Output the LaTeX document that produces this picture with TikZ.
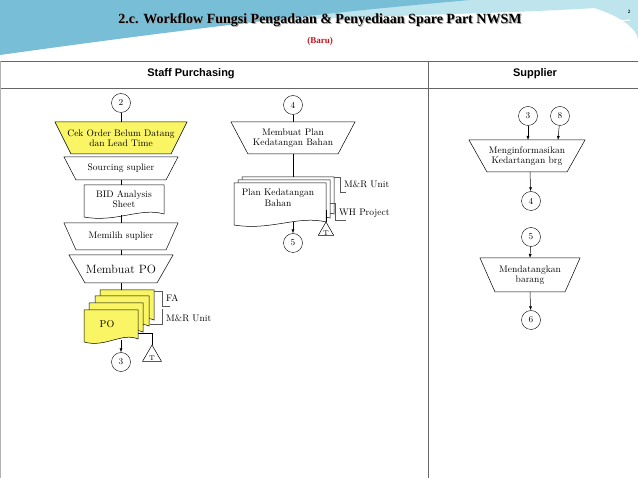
\documentclass[tikz,border=0pt]{standalone}
\usepackage{fontspec}
\newfontfamily\titlefont{Liberation Serif}
\newfontfamily\headfont{Liberation Sans}
\usetikzlibrary{arrows.meta,shapes.geometric}
\definecolor{swoosh}{RGB}{120,190,215}
\definecolor{swooshlight}{RGB}{190,228,238}
\definecolor{yel}{RGB}{250,245,100}
\definecolor{titlered}{RGB}{200,20,30}
\tikzset{
  conn/.style={circle,draw,inner sep=0pt,minimum size=19pt,font=\small,fill=white},
  box/.style={draw,fill=white,line width=0.5pt},
  lbl/.style={font=\fontsize{9.5}{10.5}\selectfont,align=center,inner sep=1pt},
  tag/.style={font=\fontsize{9.5}{10.5}\selectfont,anchor=west,inner sep=1pt},
  line/.style={line width=0.5pt},
  arr/.style={line width=0.5pt,-{Latex[length=4pt,width=3pt]}},
  tri/.style={draw,fill=white,line width=0.5pt},
}
\newcommand\trapz[8]{% name cx ytop ybot halftop halfbot fill text
  \draw[box,fill=#7] (#2-#5,#3)--(#2+#5,#3)--(#2+#6,#4)--(#2-#6,#4)--cycle;
  \node[lbl] (#1) at (#2,{(#3+#4)/2}) {#8};
  \coordinate (#1-t) at (#2,#3); \coordinate (#1-b) at (#2,#4);}
\newcommand\docsh[5]{% x1 y1 x2 y2 fill
  \draw[box,fill=#5] (#1,#2)--(#3,#2)--(#3,#4-3) .. controls ({#3-0.3*(#3-#1)},#4-10) and ({#1+0.4*(#3-#1)},#4+6) .. (#1,#4)--cycle;}
\begin{document}
\begin{tikzpicture}[x=1pt,y=-1pt]
\useasboundingbox (0,0) rectangle (638,478);
\fill[white] (0,0) rectangle (638,478);
% decorative swoosh
\fill[swooshlight] (0,0)--(700,0)--(700,0) .. controls (500,20) and (300,10) .. (0,40)--cycle;
\fill[swoosh] (0,0)--(470,0) .. controls (380,8) and (250,20) .. (0,55)--cycle;
\fill[swooshlight] (560,0) .. controls (620,10) and (638,30) .. (638,40)--(638,0)--cycle;
\draw[white,line width=1.5pt] (0,58) .. controls (150,30) and (300,28) .. (420,40);
\draw[white,line width=1pt] (30,56) .. controls (200,36) and (350,40) .. (630,20);
% title
\node[font=\titlefont\bfseries\fontsize{14}{16}\selectfont,gray!70] at (321,21) {2.c. Workflow Fungsi Pengadaan \& Penyediaan Spare Part NWSM};
\node[font=\titlefont\bfseries\fontsize{14}{16}\selectfont] (title) at (320,20) {2.c. Workflow Fungsi Pengadaan \& Penyediaan Spare Part NWSM};
\node[font=\titlefont\bfseries\small,titlered] (baru) at (320,41) {(Baru)};
\node[font=\titlefont\bfseries\tiny] (pg) at (629,12) {2};
% table
\draw[gray!80!black,line width=0.6pt] (0,61)--(638,61) (0,88)--(638,88) (428,61)--(428,478);
\draw[gray!60,line width=0.4pt] (0,61)--(0,478) (638,61)--(638,478);
\node[font=\headfont\bfseries\fontsize{11}{13}\selectfont] (h1) at (191,74) {Staff Purchasing};
\node[font=\headfont\bfseries\fontsize{11}{13}\selectfont] (h2) at (535,74) {Supplier};
% ---------- left column ----------
\node[conn] (c2) at (121,103) {2};
\trapz{cek}{121}{122}{154}{66}{50}{yel}{Cek Order Belum Datang\\dan Lead Time}
\trapz{src}{121}{157}{180}{57}{45}{white}{Sourcing suplier}
\docsh{84}{185}{164}{217}{white}
\node[lbl] (bid) at (124,199) {BID Analysis\\Sheet};
\coordinate (bid-t) at (121,185); \coordinate (bid-b) at (121,215);
\trapz{mem}{121}{223}{250}{57}{45}{white}{Memilih suplier}
\trapz{mpo}{121}{255}{283}{52}{36}{white}{\large Membuat PO}
\docsh{100}{290}{154}{323}{yel}
\docsh{95}{296}{149}{329}{yel}
\docsh{89}{303}{143}{335}{yel}
\docsh{84}{310}{138}{342}{yel}
\node[lbl,font=\normalsize] (po) at (107,324) {PO};
\coordinate (po-t) at (121,290); \coordinate (po-b) at (121,340);
\draw[line] (c2)--(cek-t) (src-b)--(bid-t) (bid-b)--(mem-t) (mem-b)--(mpo-t) (mpo-b)--(po-t);
\node[conn] (c3a) at (121,362) {3};
\draw[arr] (po-b)--(c3a);
\draw[line,gray!70!black] (154,291)--(162,291)--(162,306)--(170,306);
\node[tag] (fa) at (165,298) {FA};
\draw[line,gray!70!black] (150,324)--(162,324)--(162,309);
\node[tag] (mru1) at (165,318) {M\&R Unit};
\draw[line] (138,333)--(152,333)--(152,345);
\node[tri,regular polygon,regular polygon sides=3,inner sep=0pt,minimum size=22pt] (t1) at (152,356) {};
\node[font=\scriptsize] at (152,358) {T};
% ---------- middle column ----------
\node[conn] (c4a) at (293,105) {4};
\trapz{mpl}{293}{122}{154}{62}{45}{white}{Membuat Plan\\Kedatangan Bahan}
\docsh{242}{177}{334}{217}{white}
\docsh{238}{180}{330}{221}{white}
\docsh{234}{183}{326}{225}{white}
\node[lbl] (pkb) at (278,198) {Plan Kedatangan\\Bahan};
\coordinate (pkb-t) at (293,177); \coordinate (pkb-b) at (293,222);
\draw[line] (c4a)--(mpl-t) (mpl-b)--(pkb-t);
\node[conn] (c5a) at (293,243) {5};
\draw[arr] (pkb-b)--(c5a);
\draw[line,gray!70!black] (334,177)--(340,177)--(340,192)--(346,192);
\node[tag] (mru2) at (343,184) {M\&R Unit};
\draw[line,gray!70!black] (330,203)--(335,203)--(335,220)--(346,220);
\node[tag] (wh) at (338,213) {WH Project};
\draw[line] (326,210)--(326,222);
\node[tri,regular polygon,regular polygon sides=3,inner sep=0pt,minimum size=18pt] (t2) at (326,231) {};
\node[font=\scriptsize] at (326,233) {T};
% ---------- right column ----------
\node[conn] (c3b) at (528,116) {3};
\node[conn] (c8) at (560,116) {8};
\trapz{inf}{527}{140}{172}{58}{40}{white}{Menginformasikan\\Kedartangan brg}
\draw[arr] (c3b)--(528,140);
\draw[arr] (c8)--(558,140);
\node[conn] (c4b) at (531,201) {4};
\draw[arr] (530,172)--(c4b);
\node[conn] (c5b) at (531,237) {5};
\trapz{dat}{530}{258}{292}{50}{35}{white}{Mendatangkan\\barang}
\draw[arr] (c5b)--(dat-t);
\node[conn] (c6) at (531,320) {6};
\draw[arr] (dat-b)--(c6);
\end{tikzpicture}
\end{document}
